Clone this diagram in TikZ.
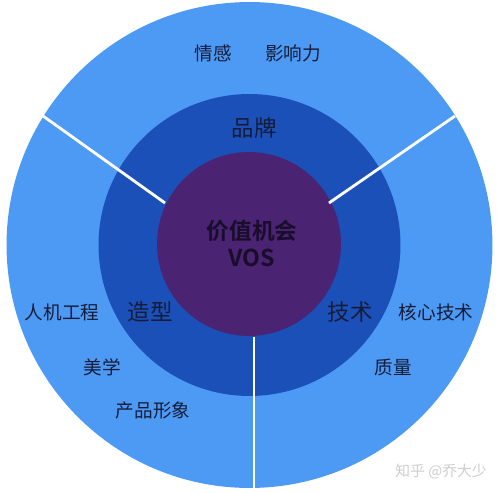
\documentclass[tikz,border=0pt]{standalone}
\usepackage{fontspec}
\usepackage{tikz}
\usetikzlibrary{positioning}
\newfontfamily\cjkfont{Noto Sans CJK SC}
\newfontfamily\cjkbold{Noto Sans CJK SC Bold}
\definecolor{ringblue}{RGB}{77, 154, 245}
\definecolor{midblue}{RGB}{27, 80, 184}
\definecolor{corepurple}{RGB}{74, 35, 114}
\definecolor{labelink}{RGB}{22, 28, 56}
\definecolor{coreink}{RGB}{24, 14, 44}
\definecolor{markgray}{RGB}{205, 205, 205}

\begin{document}
\begin{tikzpicture}[
  x=0.02cm, y=-0.02cm,
  ring/.style={inner sep=0pt, circle},
  outerlabel/.style={font=\cjkfont\fontsize{10.6pt}{12pt}\selectfont, text=labelink, inner sep=0pt},
  midlabel/.style={font=\cjkfont\fontsize{12.8pt}{14pt}\selectfont, text=labelink, inner sep=0pt},
  corelabel/.style={font=\cjkbold\fontsize{12.9pt}{14pt}\selectfont, text=coreink, inner sep=0pt},
  divider/.style={white, line width=1.6pt}
]
  \useasboundingbox (0,0) rectangle (500,493);

  % Rings
  \node[ring, fill=ringblue, minimum size=9.72cm] (outer) at (249.5,245) {};
  \node[ring, fill=midblue, minimum size=6.04cm] (mid) at (249.5,245) {};
  \node[ring, fill=corepurple, minimum size=3.68cm] (core) at (249,244) {};

  % Dividers
  \coordinate (ulin) at (165,203);
  \coordinate (ulout) at (43,116);
  \coordinate (urin) at (329,203);
  \coordinate (urout) at (455,116);
  \coordinate (btin) at (254,337);
  \coordinate (btout) at (254,488);
  \draw[divider] (ulin) -- (ulout);
  \draw[divider] (urin) -- (urout);
  \draw[divider] (btin) -- (btout);

  % Core
  \node[corelabel] (vo) at (252,231) {价值机会};
  \node[corelabel, font=\cjkbold\fontsize{13.2pt}{14pt}\selectfont] (vos) at (252,258) {VOS};

  % Middle ring
  \node[midlabel] (brand) at (254,128) {品牌};
  \node[midlabel] (shape) at (150,312) {造型};
  \node[midlabel] (tech) at (350,312) {技术};

  % Outer ring
  \node[outerlabel] (emo) at (213,53) {情感};
  \node[outerlabel] (infl) at (293,53) {影响力};
  \node[outerlabel] (ergo) at (62,312) {人机工程};
  \node[outerlabel] (aes) at (102,367) {美学};
  \node[outerlabel] (img) at (153,410) {产品形象};
  \node[outerlabel] (core tech) at (436,312) {核心技术};
  \node[outerlabel] (qual) at (393,367) {质量};

  % Watermark
  \node[font=\cjkfont\fontsize{8.4pt}{10pt}\selectfont, text=markgray, inner sep=0pt] (mark) at (441,472) {知乎 @乔大少};
\end{tikzpicture}
\end{document}
